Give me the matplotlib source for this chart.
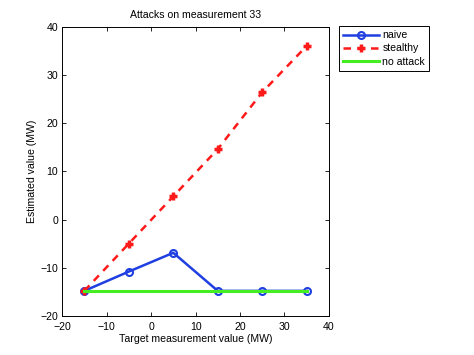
import matplotlib
matplotlib.use("Agg")
import matplotlib.pyplot as plt

plt.rcParams["font.family"] = ["Liberation Sans", "DejaVu Sans"]
plt.rcParams["font.size"] = 7.6

# data
target = [-15, -5, 5, 15, 25, 35]
naive = [-14.8, -10.8, -6.9, -14.8, -14.8, -14.8]
stealthy = [-14.8, -5.0, 4.8, 14.6, 26.4, 36.0]
no_attack = [-14.8, -14.8, -14.8, -14.8, -14.8, -14.8]

fig = plt.figure(figsize=(4.74, 3.55), dpi=100)
ax = fig.add_axes([0.131, 0.110, 0.563, 0.815])

ax.plot(target, naive, "-o", color="#1f3fe0", lw=1.8, ms=5, mfc="none", mew=1.5, label="naive")
ax.plot(target, stealthy, "--+", color="#ff1a1a", lw=1.8, ms=6, mew=2.5, dashes=(3, 2.5), label="stealthy")
ax.plot(target, no_attack, "-", color="#44ee22", lw=2.2, label="no attack")

ax.set_xlim(-20, 40)
ax.set_ylim(-20, 40)
ax.set_xticks(range(-20, 41, 10))
ax.set_yticks(range(-20, 41, 10))
ax.tick_params(direction="in", top=True, right=True, length=3, width=0.6)
ax.tick_params(axis="x", pad=4.5)
ax.tick_params(axis="y", pad=3)
for s in ax.spines.values():
    s.set_linewidth(0.7)

ax.set_title("Attacks on measurement 33", fontsize=7.6, pad=6)
ax.set_xlabel("Target measurement value (MW)", labelpad=1)
ax.set_ylabel("Estimated value (MW)", labelpad=2)

leg = fig.legend(loc="upper left", bbox_to_anchor=(339 / 474, 1 - 26 / 355),
                 handlelength=3.4, fancybox=False, framealpha=1, edgecolor="black",
                 borderpad=0.4, labelspacing=0.3, handletextpad=0.3, borderaxespad=0)
leg.get_frame().set_linewidth(0.7)

fig.savefig("out.png", dpi=100)
